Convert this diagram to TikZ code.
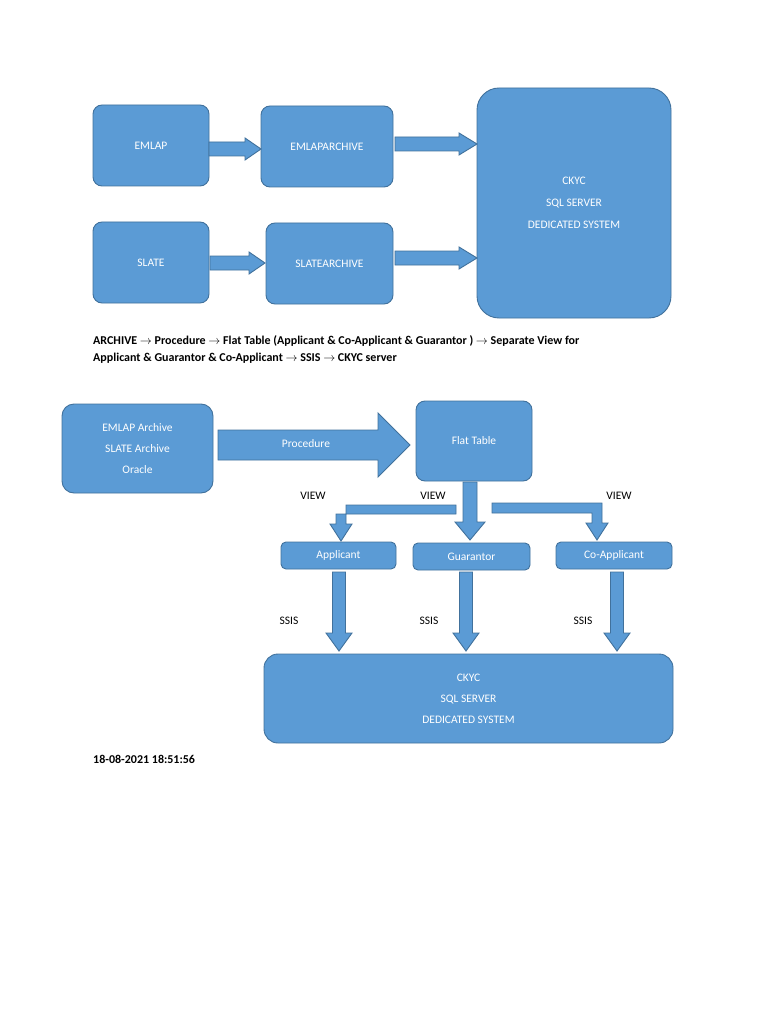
\documentclass[tikz,border=0pt]{standalone}
\usepackage{fontspec}
\setmainfont{Carlito}
\begin{document}
\begin{tikzpicture}[x=1pt,y=-1pt,
  box/.style={draw=boxline,fill=boxfill,line width=0.9pt,rounded corners=9pt,text=white,font=\fontsize{11.5}{13}\selectfont,align=center,inner sep=0pt},
  blk/.style={draw=boxline,fill=boxfill,line width=0.9pt,line join=miter},
  lab/.style={font=\fontsize{11.5}{13}\selectfont,text=black,inner sep=0pt}]
\definecolor{boxfill}{HTML}{5B9BD5}
\definecolor{boxline}{HTML}{41719C}
\useasboundingbox (0,0) rectangle (768,1024);
% horizontal block arrow: x1,x2,y,halfshaft,halfhead,headlen
\newcommand\harr[6]{\draw[blk] (#1,#3-#4) -- (#2-#6,#3-#4) -- (#2-#6,#3-#5) -- (#2,#3) -- (#2-#6,#3+#5) -- (#2-#6,#3+#4) -- (#1,#3+#4) -- cycle;}
\newcommand\varr[6]{\draw[blk] (#3-#4,#1) -- (#3-#4,#2-#6) -- (#3-#5,#2-#6) -- (#3,#2) -- (#3+#5,#2-#6) -- (#3+#4,#2-#6) -- (#3+#4,#1) -- cycle;}
% top part
\node[box,minimum width=116,minimum height=81] (emlap) at (151,145.5) {EMLAP};
\node[box,minimum width=132,minimum height=81] (emlaparc) at (327,146.5) {EMLAPARCHIVE};
\node[box,minimum width=194,minimum height=230,rounded corners=22pt] (ckyc1) at (574,203) {CKYC\\[9pt]SQL SERVER\\[9pt]DEDICATED SYSTEM};
\node[box,minimum width=116,minimum height=81] (slate) at (151,262.5) {SLATE};
\node[box,minimum width=127,minimum height=81] (slatearc) at (329.5,263.5) {SLATEARCHIVE};
\harr{209}{261}{149}{7}{11}{16}
\harr{395}{477}{144}{7}{11}{18}
\harr{210}{265}{263}{7}{11}{16}
\harr{395}{477}{258}{7}{11}{18}
% text line
\node[lab,anchor=north west,align=left,font=\bfseries\fontsize{12}{17}\selectfont] (txt) at (93,335) {ARCHIVE $\rightarrow$ Procedure $\rightarrow$ Flat Table (Applicant \& Co-Applicant \& Guarantor ) $\rightarrow$ Separate View for\\Applicant \& Guarantor \& Co-Applicant $\rightarrow$ SSIS $\rightarrow$ CKYC server};
% bottom part
\node[box,minimum width=151,minimum height=89,rounded corners=12pt] (src) at (137.5,448.5) {EMLAP Archive\\[8pt]SLATE Archive\\[8pt]Oracle};
\draw[blk] (218,430) -- (378,430) -- (378,413) -- (410,445) -- (378,477) -- (378,460) -- (218,460) -- cycle;
\node[lab,text=white] (proc) at (306,444) {Procedure};
\node[box,minimum width=116,minimum height=80] (flat) at (474,441) {Flat Table};
\node[lab] (v1) at (313,496) {VIEW};
\node[lab] (v2) at (433,496) {VIEW};
\node[lab] (v3) at (619,496) {VIEW};
\varr{482}{540}{470}{7}{15}{18}
\draw[blk] (456,505) -- (346,505) -- (346,524) -- (352,524) -- (341,541) -- (330,524) -- (336,524) -- (336,514) -- (456,514) -- cycle;
\draw[blk] (492,503) -- (602,503) -- (602,523) -- (608,523) -- (597,540) -- (586,523) -- (592,523) -- (592,513) -- (492,513) -- cycle;
\node[box,minimum width=115,minimum height=27,rounded corners=5pt] (app) at (338.5,555.5) {Applicant};
\node[box,minimum width=117,minimum height=27,rounded corners=5pt] (guar) at (471.5,556.5) {Guarantor};
\node[box,minimum width=116,minimum height=27,rounded corners=5pt] (coapp) at (614,555.5) {Co-Applicant};
\varr{572}{651}{339}{6.5}{13}{18}
\varr{572}{651}{466}{6.5}{13}{18}
\varr{572}{651}{617}{6.5}{13}{18}
\node[lab] (s1) at (289,621) {SSIS};
\node[lab] (s2) at (429,621) {SSIS};
\node[lab] (s3) at (583,621) {SSIS};
\node[box,minimum width=409,minimum height=89,rounded corners=14pt] (ckyc2) at (468.5,698.5) {CKYC\\[8pt]SQL SERVER\\[8pt]DEDICATED SYSTEM};
\node[lab,anchor=west,font=\bfseries\fontsize{12}{14}\selectfont] (date) at (93,759) {18-08-2021 18:51:56};
\end{tikzpicture}
\end{document}
